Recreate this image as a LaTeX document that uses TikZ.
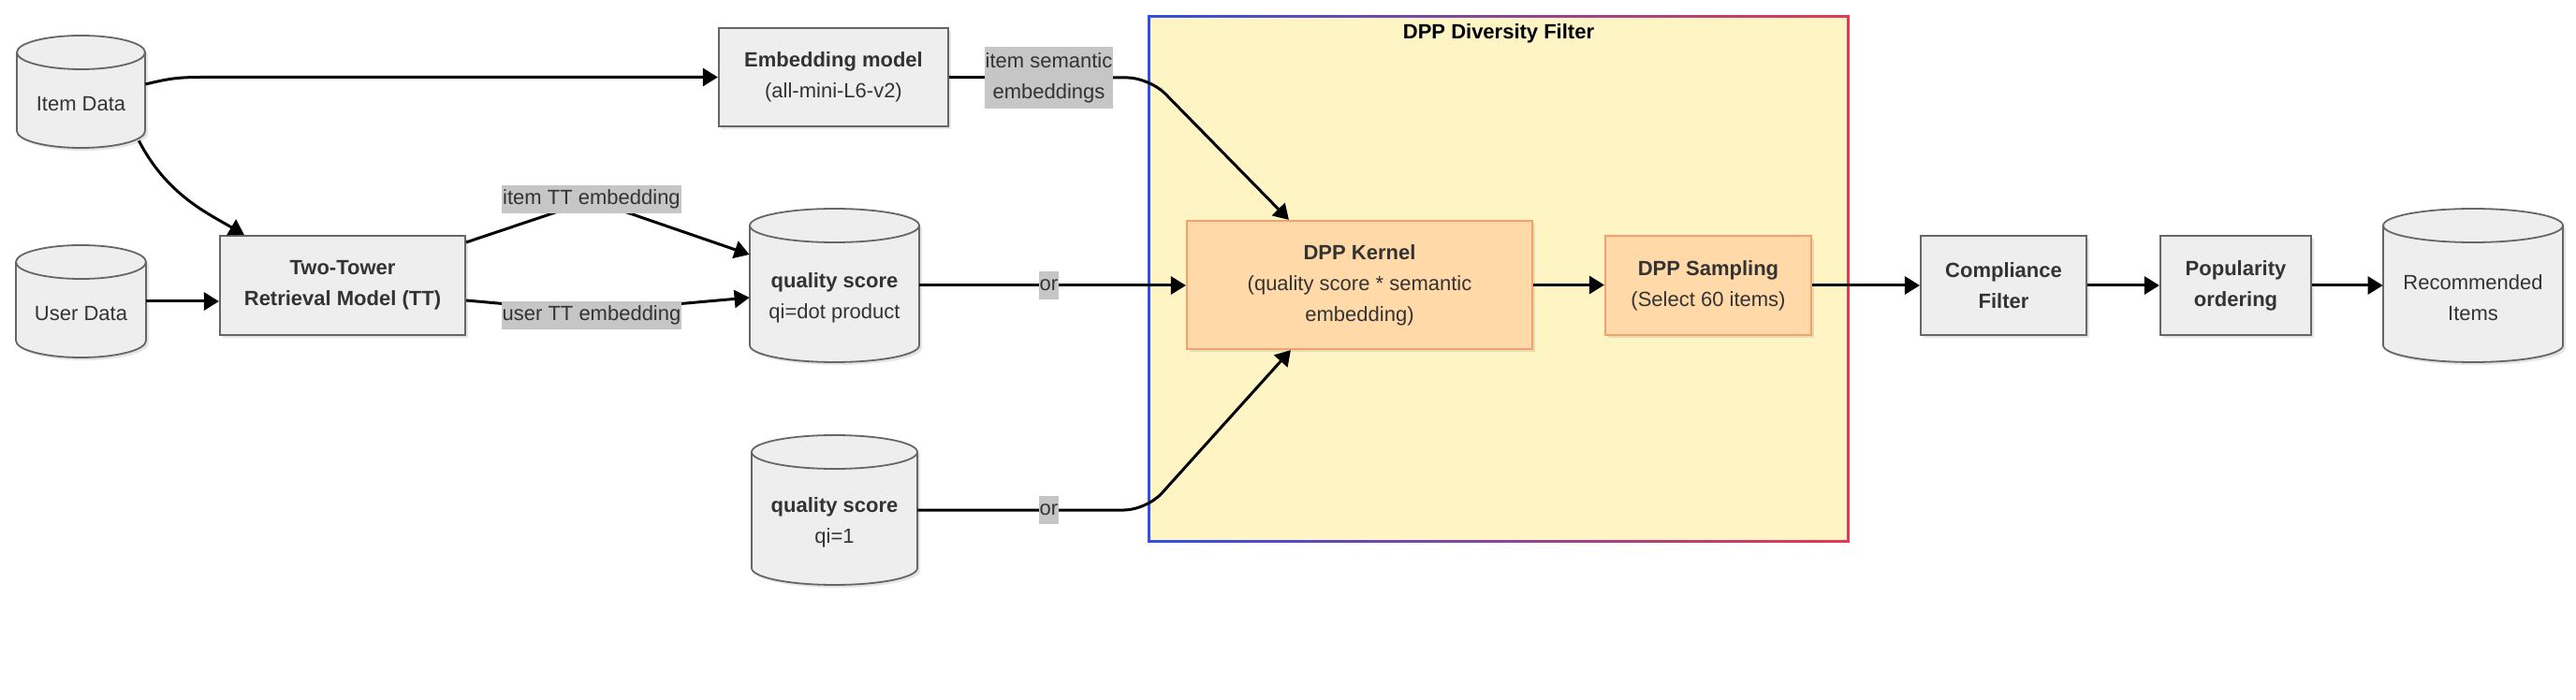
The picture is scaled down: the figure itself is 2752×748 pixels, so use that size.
\documentclass[tikz,border=0pt]{standalone}
\usepackage{fontspec}
\setmainfont{Liberation Sans}
\usetikzlibrary{arrows.meta,calc,shadows}
\definecolor{boxfill}{HTML}{EEEEEE}
\definecolor{boxline}{HTML}{666666}
\definecolor{txtc}{HTML}{333333}
\definecolor{labbg}{HTML}{C6C6C6}
\definecolor{framefill}{HTML}{FFF5C4}
\definecolor{frameblue}{HTML}{3050E0}
\definecolor{framered}{HTML}{E23A55}
\definecolor{dppfill}{HTML}{FFDAA8}
\definecolor{dppline}{HTML}{F4A06C}
\tikzset{
  base/.style={font=\fontsize{11}{16.5}\selectfont, text=txtc, align=center},
  shad/.style={drop shadow={shadow xshift=1.5pt, shadow yshift=-1.5pt, opacity=0.2}},
  boxn/.style={base, draw=boxline, fill=boxfill, line width=1.1pt, inner sep=0pt, shad},
  boxb/.style={boxn, font=\fontsize{11}{16.5}\selectfont\bfseries},
  dppbox/.style={base, draw=dppline, fill=dppfill, line width=1.1pt, inner sep=0pt, shad},
  lab/.style={base, fill=labbg, inner xsep=0.5pt, inner ysep=0pt, minimum height=15pt},
  cylbody/.style={draw=boxline, fill=boxfill, line width=0.9pt, shad},
  cylline/.style={draw=boxline, line width=0.9pt},
  conn/.style={draw=black, line width=1.5pt, -{Triangle[length=8pt,width=9.5pt]}},
}
% #1 name, #2 x1, #3 x2, #4 y1 (top), #5 y2 (bottom), #6 text
\newcommand{\mycyl}[6]{%
  \pgfmathsetmacro{\cA}{(#2+#3)/2}%
  \pgfmathsetmacro{\cR}{(#3-#2)/2}%
  \pgfmathsetmacro{\cT}{#4+18}%
  \pgfmathsetmacro{\cB}{#5-18}%
  \pgfmathsetmacro{\cM}{(#4+#5)/2}%
  \pgfmathsetmacro{\cK}{0.5523*\cR}%
  \pgfmathsetmacro{\cL}{0.5523*18}%
  \pgfmathsetmacro{\cW}{(#3-#2)*0.5}%
  \pgfmathsetmacro{\cH}{(#5-#4)*0.5}%
  \node[inner sep=0pt, minimum width=\cW pt, minimum height=\cH pt] (#1) at (\cA,\cM) {};
  \filldraw[cylbody] (#2,\cT) -- (#2,\cB)
     .. controls (#2,\cB+\cL) and (\cA-\cK,#5) .. (\cA,#5)
     .. controls (\cA+\cK,#5) and (#3,\cB+\cL) .. (#3,\cB)
     -- (#3,\cT)
     .. controls (#3,\cT-\cL) and (\cA+\cK,#4) .. (\cA,#4)
     .. controls (\cA-\cK,#4) and (#2,\cT-\cL) .. (#2,\cT) -- cycle;
  \draw[cylline] (#2,\cT) .. controls (#2,\cT+\cL) and (\cA-\cK,\cT+18) .. (\cA,\cT+18)
     .. controls (\cA+\cK,\cT+18) and (#3,\cT+\cL) .. (#3,\cT);
  \node[base] (#1-t) at (\cA,\cM+13) {#6};
}
\begin{document}
\begin{tikzpicture}[x=0.5pt,y=-0.5pt]
\useasboundingbox (0,0) rectangle (2752,748);
\fill[white] (0,0) rectangle (2752,748);

% DPP frame
\node[inner sep=0pt, minimum width=373pt, minimum height=280pt] (frame) at (1601,298) {};
\shade[left color=frameblue, right color=framered] ([shift={(-1.5,-1.5)}]frame.north west) rectangle ([shift={(1.5,1.5)}]frame.south east);
\fill[framefill] ([shift={(1.5,1.5)}]frame.north west) rectangle ([shift={(-1.5,-1.5)}]frame.south east);
\node[base, text=black, font=\fontsize{11}{16.5}\selectfont\bfseries] (title) at (1601,36) {DPP Diversity Filter};

% cylinders
\mycyl{itemdata}{18}{155}{38}{158}{Item Data}
\mycyl{userdata}{17}{156}{262}{382}{User Data}
\mycyl{qs1}{801}{982}{223}{387}{\textbf{quality score}\\qi=dot product}
\mycyl{qs2}{803}{980}{465}{625}{\textbf{quality score}\\qi=1}
\mycyl{rec}{2546}{2738}{223}{387}{Recommended\\Items}

% boxes
\node[boxb, minimum width=131pt, minimum height=53pt] (tt) at (366,305) {Two-Tower\\Retrieval Model (TT)};
\node[boxn, minimum width=122.5pt, minimum height=52.5pt] (emb) at (890.5,82.5) {\textbf{Embedding model}\\(all-mini-L6-v2)};
\node[dppbox, minimum width=184.5pt, minimum height=68.5pt] (kernel) at (1452.5,304.5) {\textbf{DPP Kernel}\\(quality score * semantic\\embedding)};
\node[dppbox, minimum width=110pt, minimum height=53pt] (samp) at (1825,305) {\textbf{DPP Sampling}\\(Select 60 items)};
\node[boxb, minimum width=88.5pt, minimum height=53pt] (comp) at (2140.5,305) {Compliance\\Filter};
\node[boxb, minimum width=80.5pt, minimum height=53pt] (pop) at (2388.5,305) {Popularity\\ordering};

% waypoints
\coordinate (c1) at (215,82.5);
\coordinate (c2) at (1228,83);
\coordinate (c3) at (1225,545);
\coordinate (ittw) at (632,214);
\coordinate (uttw) at (632,333);

% connectors
\draw[conn] ($(itemdata.east)+(0,-8)$) .. controls (180,84) and (190,82.5) .. (c1) -- (emb.west);
\draw[conn] ($(itemdata.south east)+(-7,-8)$) .. controls (178,208) and (222,228) .. ($(tt.north west)+(27,0)$);
\draw[conn] (userdata.east) -- (userdata.east -| tt.west);
\draw[conn] ($(tt.north east)+(0,8)$) -- (ittw) -- ($(qs1.west)+(0,-33)$);
\draw[conn] ($(tt.east)+(0,16)$) -- (uttw) -- ($(qs1.west)+(0,13)$);
\draw[conn, rounded corners=12pt] (emb.east) -- (c2) -- ($(kernel.north west)+(110,0)$);
\draw[conn] (qs1.east) -- (qs1.east -| kernel.west);
\draw[conn, rounded corners=12pt] (qs2.east) -- (c3) -- ($(kernel.south west)+(112,0)$);
\draw[conn] (kernel.east) -- (kernel.east -| samp.west);
\draw[conn] (samp.east) -- (comp.west);
\draw[conn] (comp.east) -- (pop.west);
\draw[conn] (pop.east) -- (rec.west);

% labels
\node[lab] (ittlab) at (632,213) {item TT embedding};
\node[lab] (uttlab) at (632,337) {user TT embedding};
\node[lab, minimum height=33pt] (semlab) at (1120.5,83) {item semantic\\embeddings};
\node[lab] (or1) at (1120.5,305) {or};
\node[lab] (or2) at (1120.5,545) {or};
\end{tikzpicture}
\end{document}
